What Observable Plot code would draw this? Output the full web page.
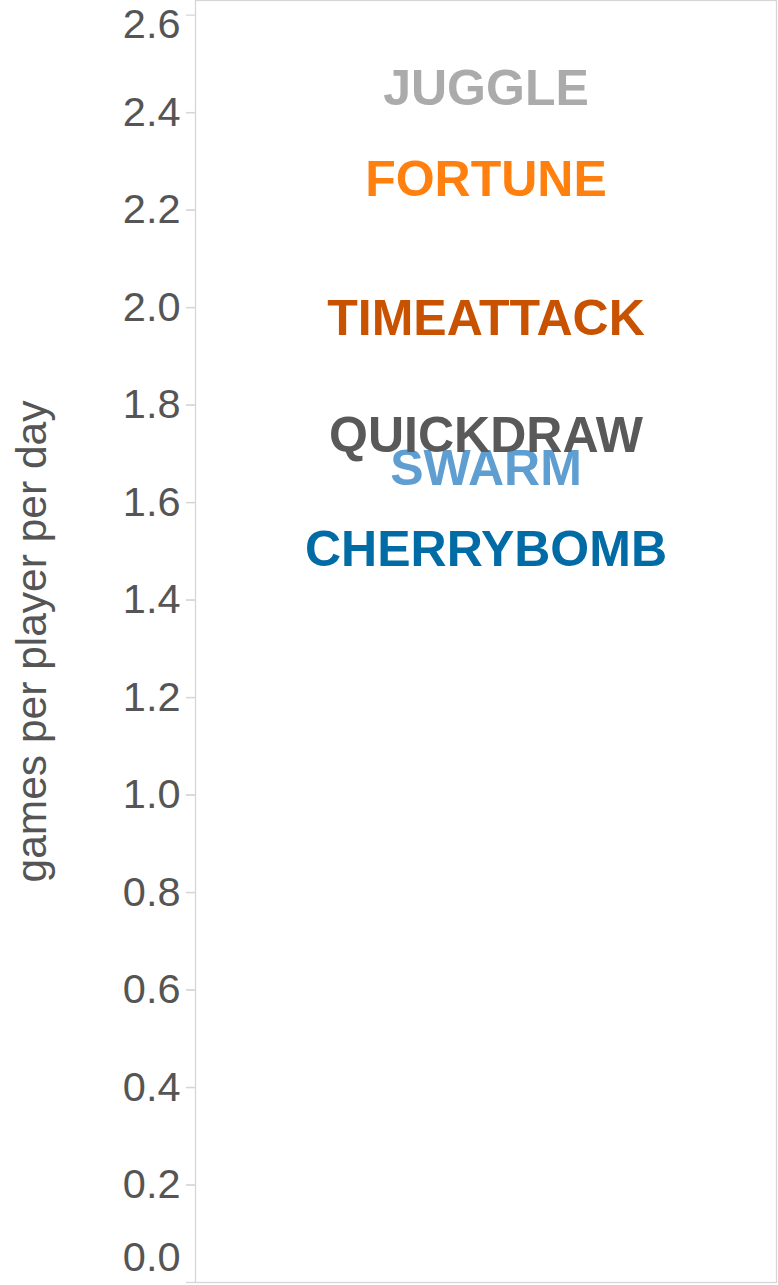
<!DOCTYPE html>
<html>
<head>
<meta charset="utf-8">
<script src="https://cdn.jsdelivr.net/npm/d3@7"></script>
<script src="https://cdn.jsdelivr.net/npm/@observablehq/plot@0.6"></script>
<style>
  html, body { margin: 0; padding: 0; background: #fff; }
  #chart svg { display: block; }
</style>
</head>
<body>
<div id="chart"></div>
<script>
const games  = ["JUGGLE", "FORTUNE", "TIMEATTACK", "SWARM", "QUICKDRAW", "CHERRYBOMB"];
const values = [2.449, 2.261, 1.977, 1.669, 1.737, 1.502];
const colors = ["#ababab", "#ff800e", "#c85200", "#5f9ed1", "#595959", "#006ba4"];
const yTicks = [0, 0.2, 0.4, 0.6, 0.8, 1.0, 1.2, 1.4, 1.6, 1.8, 2.0, 2.2, 2.4, 2.6];
const yLabel = "games per player per day";

const data = games.map((g, i) => ({game: g, value: values[i], color: colors[i]}));
const midTicks = yTicks.slice(1, -1);
const fmt = d => d.toFixed(1);
const font = "'Liberation Sans', Arial, sans-serif";

const chart = Plot.plot({
  width: 778,
  height: 1285,
  marginLeft: 195,
  marginRight: 2,
  marginTop: 0,
  marginBottom: 3,
  style: {fontFamily: font, background: "#fff"},
  y: {domain: [0, 2.63]},
  marks: [
    Plot.frame({stroke: "#d6d6d6", strokeWidth: 1.3}),
    Plot.axisY({ticks: yTicks, tickSize: 9, stroke: "#d6d6d6", strokeWidth: 1.3, tickFormat: () => "", label: null}),
    Plot.axisY({ticks: midTicks, tickSize: 9, tickPadding: 6, stroke: "#d6d6d6", strokeWidth: 1.3,
      tickFormat: fmt, fontSize: 41.5, fill: "#555",
      label: yLabel, labelAnchor: "center", labelArrow: "none", labelOffset: 180}),
    Plot.axisY({ticks: [0], tickSize: 0, tickPadding: 15, tickFormat: fmt, fontSize: 41.5, fill: "#555", dy: -25, label: null}),
    Plot.axisY({ticks: [2.6], tickSize: 0, tickPadding: 15, tickFormat: fmt, fontSize: 41.5, fill: "#555", dy: 10, label: null}),
    Plot.text(data, {
      y: "value", text: "game", fill: "color",
      frameAnchor: "middle", lineAnchor: "middle",
      fontSize: 50, fontWeight: "bold", fontFamily: font
    })
  ]
});
chart.querySelectorAll("g[aria-label='y-axis label'] text, g[aria-label='y-axis label']").forEach(el => {
  el.setAttribute("font-size", 42.5);
});
document.getElementById("chart").append(chart);
</script>
</body>
</html>
